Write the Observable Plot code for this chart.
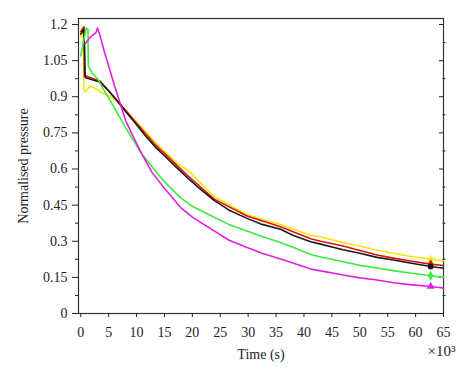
<!DOCTYPE html>
<html><head><meta charset="utf-8">
<script src="https://cdn.jsdelivr.net/npm/d3@7"></script>
<script src="https://cdn.jsdelivr.net/npm/@observablehq/plot@0.6"></script>
<style>
body{margin:0;background:#fff}
#chart svg, #chart svg text, #chart svg tspan{font-family:'Liberation Serif','DejaVu Serif',serif !important;}
</style>
</head><body><div id="chart"></div>
<script>
// time in thousands of seconds, normalised pressure
const yellowT = [0,0.3,0.5,0.55,0.8,1.7,2.6,3.5,5,6.3,8,9.8,13.4,17,19.7,23.9,29.8,35.8,41.2,43,47,50,53.1,56,59,62.7,65];
const yellowV = [1.15,1.19,1.1,0.93,0.92,0.943,0.935,0.92,0.905,0.885,0.845,0.80,0.71,0.63,0.585,0.485,0.41,0.37,0.325,0.318,0.295,0.28,0.263,0.25,0.238,0.225,0.219];
const redT = [0,0.6,0.65,1.07,3.5,6.1,8,9.8,13.4,17,19.3,23.9,29.8,35.8,41.2,43,47,50,53.1,56,59,62.7,65];
const redV = [1.17,1.19,0.985,0.985,0.964,0.895,0.845,0.795,0.70,0.62,0.57,0.475,0.405,0.36,0.31,0.30,0.28,0.262,0.243,0.23,0.218,0.205,0.199];
const blackT = [0,0.5,0.7,0.8,1.5,3.5,5,6.3,8,9.8,11.5,13.4,15,17,19.3,21,23.9,26.5,29.8,32.5,35.8,38,41.2,43,47,50,53.1,56,59,62.7,65];
const blackV = [1.16,1.18,1.1,0.98,0.975,0.96,0.925,0.89,0.84,0.79,0.74,0.69,0.655,0.61,0.56,0.525,0.47,0.43,0.395,0.37,0.35,0.325,0.298,0.288,0.265,0.25,0.233,0.222,0.21,0.195,0.188];
const greenT = [0,0.5,1.0,1.3,1.35,2,3,4,5,6,8.1,11,14.6,17.9,20,23.9,26.5,29.8,32.5,35.8,38,41.2,43,47,50,53.1,56,59,62.7,65];
const greenV = [1.07,1.13,1.185,1.18,1.03,1.0,0.975,0.935,0.895,0.855,0.77,0.66,0.557,0.48,0.445,0.40,0.37,0.343,0.32,0.295,0.275,0.245,0.235,0.215,0.2,0.189,0.178,0.168,0.157,0.15];
const magentaT = [0.8,1.8,2.7,3.0,3.45,4.2,5.1,6,8.06,9.5,11,12.8,15,17.9,20,23.9,26.5,29.8,32.5,35.8,38,41.2,43,47,50,53.1,56,59,62.7,65];
const magentaV = [1.12,1.15,1.165,1.185,1.155,1.09,1.02,0.95,0.80,0.73,0.66,0.585,0.52,0.44,0.40,0.343,0.305,0.274,0.25,0.226,0.21,0.185,0.177,0.16,0.148,0.139,0.128,0.12,0.112,0.106];

const seriesNames = ["Run 1","Run 2","Run 3","Run 4","Run 5"];
const seriesColors = ["#f5e800","#e01010","#1a1a1a","#3ceb3c","#e020e0"];
const markerT = [62.7,62.7,62.7,62.7,62.7];
const markerV = [0.225,0.205,0.195,0.157,0.112];
const markerSym = ["star","diamond","circle","diamond","triangle"];

const xTicks = [0,5,10,15,20,25,30,35,40,45,50,55,60,65];
const yTicks = [0,0.15,0.3,0.45,0.6,0.75,0.9,1.05,1.2];
const yMinor = [0.075,0.225,0.375,0.525,0.675,0.825,0.975,1.125];

const allT = [yellowT, redT, blackT, greenT, magentaT];
const allV = [yellowV, redV, blackV, greenV, magentaV];
const rows = [];
allT.forEach((ts, i) => ts.forEach((t, j) => rows.push({s: seriesNames[i], t, v: allV[i][j]})));
const markers = seriesNames.map((s, i) => ({s, t: markerT[i], v: markerV[i], sym: markerSym[i]}));

const font = "Liberation Serif";
const fmt = d => String(+d.toFixed(2));

const plot = Plot.plot({
  width: 474, height: 379,
  marginLeft: 78, marginRight: 31, marginTop: 18, marginBottom: 66,
  style: {fontFamily: font, fontSize: "14px", color: "#222", background: "#fff"},
  x: {domain: [-0.4, 65]},
  y: {domain: [0, 1.225]},
  color: {domain: seriesNames, range: seriesColors},
  marks: [
    Plot.frame({stroke: "#333", strokeWidth: 1.2}),
    Plot.axisX({ticks: xTicks, tickSize: 4, tickPadding: 10, tickFormat: fmt, fontSize: 14, fontFamily: font,
      label: "Time (s)", labelAnchor: "center", labelOffset: 45, labelArrow: "none"}),
    Plot.axisY({ticks: yTicks, tickSize: 6, tickPadding: 5, tickFormat: fmt, fontSize: 14, fontFamily: font,
      label: "Normalised pressure", labelAnchor: "center", labelOffset: 60, labelArrow: "none"}),
    Plot.axisY({ticks: yMinor, tickSize: 3, tickFormat: () => "", label: null}),
    Plot.axisY({anchor: "right", ticks: yTicks, tickSize: 5, dx: -5, tickFormat: () => "", label: null}),
    Plot.axisY({anchor: "right", ticks: yMinor, tickSize: 3, dx: -1.5, tickFormat: () => "", label: null}),
    Plot.line(rows, {x: "t", y: "v", z: "s", stroke: "s", strokeWidth: 1.6, curve: "linear"}),
    Plot.dot(markers, {x: "t", y: "v", fill: "s", symbol: "sym", r: 3}),
    Plot.text(["×10³"], {frameAnchor: "bottom-right", dy: 42, dx: 12, fontSize: 15, fill: "#222"})
  ]
});
document.getElementById("chart").appendChild(plot);
</script>
</body></html>
